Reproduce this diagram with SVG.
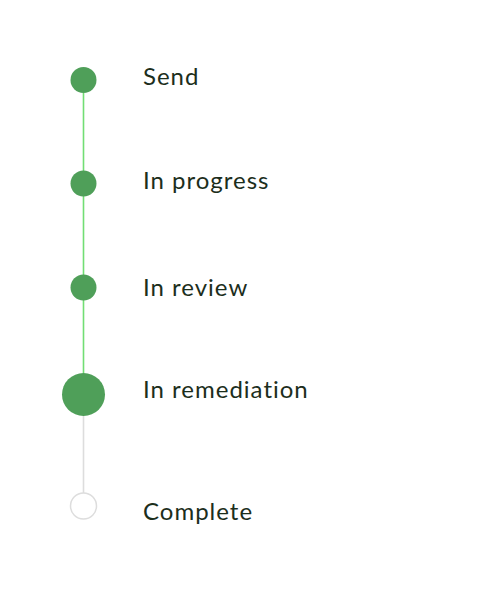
<svg xmlns="http://www.w3.org/2000/svg" width="500" height="597" viewBox="0 0 500 597">
<style>
.lbl{font-family:Lato,"Open Sans",sans-serif;font-size:24px;letter-spacing:1px;fill:#1c2e1c}
.done{fill:#4f9f59}
.todo{fill:#fff;stroke:#dddddd;stroke-width:1.5}
</style>
<rect width="500" height="597" fill="#fff"/>
<g id="connectors">
<line x1="83.5" y1="93" x2="83.5" y2="373" stroke="#72de74" stroke-width="1.6"/>
<line x1="83.5" y1="416" x2="83.5" y2="493" stroke="#dddddd" stroke-width="1.6"/>
</g>
<g id="send"><circle class="done" cx="83.5" cy="80" r="13"/><text class="lbl" x="143" y="85">Send</text></g>
<g id="in-progress"><circle class="done" cx="83.5" cy="183.5" r="13"/><text class="lbl" x="143" y="189">In progress</text></g>
<g id="in-review"><circle class="done" cx="83.5" cy="287.5" r="13"/><text class="lbl" x="143" y="296">In review</text></g>
<g id="in-remediation"><circle class="done" cx="83.5" cy="394.5" r="21.5"/><text class="lbl" x="143" y="398">In remediation</text></g>
<g id="complete"><circle class="todo" cx="83.5" cy="506" r="13"/><text class="lbl" x="143" y="520">Complete</text></g>
</svg>
